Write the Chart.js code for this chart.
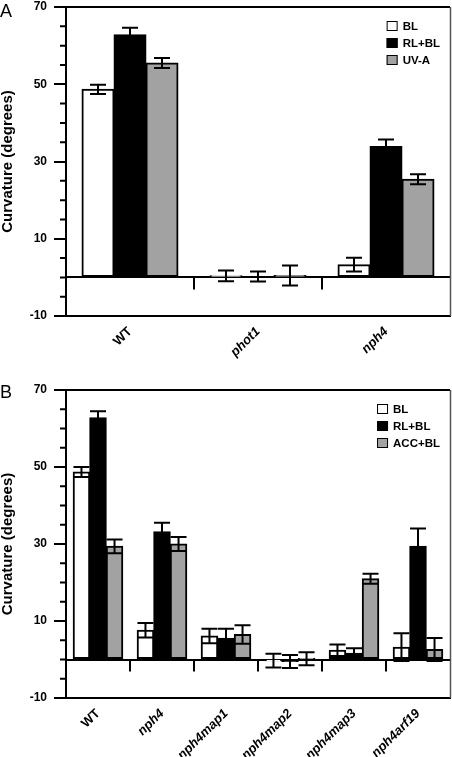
<!DOCTYPE html>
<html>
<head>
<meta charset="utf-8">
<script src="https://cdn.jsdelivr.net/npm/chart.js@4.4.0/dist/chart.umd.min.js"></script>
<style>
body{margin:0;width:452px;height:757px;overflow:hidden;background:#fff;position:relative;font-family:"Liberation Sans",Arial,sans-serif}
canvas{position:absolute;left:0}
#chartA{top:0}
#chartB{top:370px}
.tag{position:absolute;left:0;font-size:18px;line-height:18px;color:#000}
</style>
</head>
<body>
<canvas id="chartA" width="452" height="370"></canvas>
<canvas id="chartB" width="452" height="400"></canvas>
<div class="tag" style="top:2px">A</div>
<div class="tag" style="top:383px">B</div>
<script>

// PANEL A

const categoriesA = ["WT","phot1","nph4"];
const blA = [48.7, 0.4, 3.3];
const blErrA = [1.2, 1.4, 1.8];
const rlblA = [62.8, 0.2, 33.9];
const rlblErrA = [1.8, 1.3, 1.8];
const uvaA = [55.5, 0.5, 25.4];
const uvaErrA = [1.3, 2.6, 1.3];

// PANEL B

const categoriesB = ["WT","nph4","nph4map1","nph4map2","nph4map3","nph4arf19"];
const blB = [48.7, 7.6, 6.1, -0.3, 2.4, 3.2];
const blErrB = [1.3, 1.9, 1.9, 1.8, 1.5, 3.6];
const rlblB = [62.8, 33.2, 5.5, -0.5, 1.6, 29.4];
const rlblErrB = [1.7, 2.3, 2.5, 1.7, 1.3, 4.6];
const accB = [29.4, 30.0, 6.5, 0.2, 21.0, 2.6];
const accErrB = [1.8, 1.8, 2.4, 1.7, 1.3, 3.0];

const yTicks = [70, 50, 30, 10, -10];

const FAMILY = '"Liberation Sans", Arial, sans-serif';
const GRAY = "#a2a2a2";

function isLabelled(v){
return yTicks.indexOf(v) >= 0;
}

// error bars, minor ticks, category ticks on the zero line, frame, legend
const extras = {
id: "extras",
afterDatasetsDraw(chart){
const ctx = chart.ctx;
const y = chart.scales.y;
ctx.save();
ctx.strokeStyle = "#000";
ctx.lineWidth = 2;
chart.data.datasets.forEach((ds, d) => {
chart.getDatasetMeta(d).data.forEach((bar, i) => {
const t = y.getPixelForValue(ds.data[i] + ds.errors[i]);
const b = y.getPixelForValue(ds.data[i] - ds.errors[i]);
const cap = Math.min(8, bar.width / 2);
ctx.beginPath();
ctx.moveTo(bar.x, t); ctx.lineTo(bar.x, b);
ctx.moveTo(bar.x - cap, t); ctx.lineTo(bar.x + cap, t);
ctx.moveTo(bar.x - cap, b); ctx.lineTo(bar.x + cap, b);
ctx.stroke();
});
});
ctx.restore();
},
afterDraw(chart){
const ctx = chart.ctx;
const a = chart.chartArea;
const x = chart.scales.x;
const y = chart.scales.y;
ctx.save();
ctx.strokeStyle = "#000";
ctx.lineWidth = 2;
ctx.beginPath();
y.ticks.forEach(t => {
if (!isLabelled(t.value)) {
const py = y.getPixelForValue(t.value);
ctx.moveTo(a.left - 6, py); ctx.lineTo(a.left, py);
}
});
const y0 = y.getPixelForValue(0);
for (let i = 1; i < x.ticks.length; i++) {
const px = (x.getPixelForTick(i - 1) + x.getPixelForTick(i)) / 2;
ctx.moveTo(px, y0); ctx.lineTo(px, y0 + 12);
}
ctx.stroke();

ctx.strokeStyle = "#555";
ctx.lineWidth = 1.5;
ctx.beginPath();
ctx.moveTo(a.right + 0.5, a.top); ctx.lineTo(a.right + 0.5, a.bottom);
ctx.stroke();

// legend
ctx.font = "bold 11.5px " + FAMILY;
ctx.textBaseline = "middle";
ctx.textAlign = "left";
let w = 0;
chart.data.datasets.forEach(ds => { w = Math.max(w, ctx.measureText(ds.label).width); });
const bx = a.right - 10 - w - 16;
chart.data.datasets.forEach((ds, i) => {
const cy = a.top + 19 + i * 17;
ctx.fillStyle = ds.backgroundColor;
ctx.fillRect(bx, cy - 5, 11, 10);
ctx.lineWidth = 1;
ctx.strokeStyle = "#000";
ctx.strokeRect(bx + 0.5, cy - 4.5, 10, 9);
ctx.fillStyle = "#000";
ctx.fillText(ds.label, bx + 16, cy + 0.5);
});
ctx.restore();
}
};

function makeChart(id, labels, series, catPct, topPad, axisHeight){
return new Chart(document.getElementById(id), {
type: "bar",
data: {
labels: labels,
datasets: series.map(s => ({
label: s[0],
data: s[1],
errors: s[2],
backgroundColor: s[3],
borderColor: "#000",
borderWidth: 2,
borderSkipped: false,
inflateAmount: 0.5,
categoryPercentage: catPct,
barPercentage: 1
}))
},
options: {
responsive: false,
animation: false,
layout: { padding: { top: topPad, right: 2, left: 0, bottom: 0 } },
plugins: { legend: { display: false }, tooltip: { enabled: false } },
scales: {
x: {
afterFit: s => { s.height = axisHeight; s.paddingLeft = 0; s.paddingRight = 0; },
grid: { display: false, drawTicks: false, tickLength: 0 },
border: { display: true, color: "#000", width: 2 },
ticks: {
autoSkip: false,
maxRotation: 45,
minRotation: 45,
padding: 8,
color: "#000",
font: c => ({ family: FAMILY, weight: "bold", size: 13, style: c.index === 0 ? "normal" : "italic" })
}
},
y: {
min: -10,
max: 70,
afterFit: s => { s.width = 66; s.paddingTop = 0; s.paddingBottom = 0; },
border: { display: true, color: "#000", width: 2 },
grid: {
drawOnChartArea: true,
color: c => (c.tick && (c.tick.value === 0 || c.tick.value === 70)) ? "#000" : "rgba(0,0,0,0)",
lineWidth: 2,
drawTicks: true,
tickLength: 12,
tickWidth: 2,
tickColor: c => (c.tick && isLabelled(c.tick.value)) ? "#000" : "rgba(0,0,0,0)"
},
ticks: {
stepSize: 5,
autoSkip: false,
padding: 7,
color: "#000",
font: { family: FAMILY, weight: "bold", size: 12, lineHeight: 1 },
callback: v => isLabelled(v) ? v : ""
},
title: {
display: true,
text: "Curvature (degrees)",
color: "#000",
padding: 0,
font: { family: FAMILY, weight: "bold", size: 15, lineHeight: 1.1 }
}
}
}
},
plugins: [extras]
});
}

makeChart("chartA", categoriesA, [
["BL", blA, blErrA, "#ffffff"],
["RL+BL", rlblA, rlblErrA, "#000000"],
["UV-A", uvaA, uvaErrA, GRAY]
], 0.75, 7, 54);

makeChart("chartB", categoriesB, [
["BL", blB, blErrB, "#ffffff"],
["RL+BL", rlblB, rlblErrB, "#000000"],
["ACC+BL", accB, accErrB, GRAY]
], 0.775, 20, 72);

</script>
</body>
</html>
